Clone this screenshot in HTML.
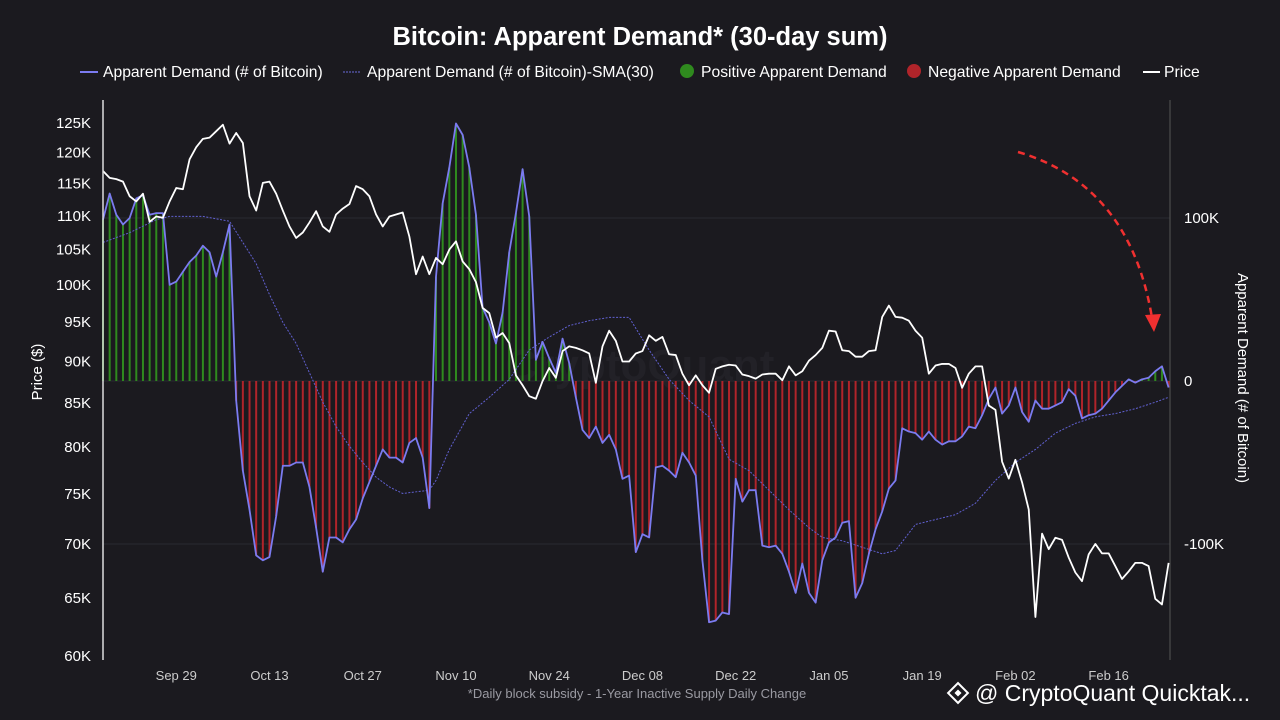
<!DOCTYPE html>
<html><head><meta charset="utf-8"><style>
html,body{margin:0;padding:0;background:#1b1a1f;}
body{width:1280px;height:720px;overflow:hidden;font-family:"Liberation Sans",sans-serif;}
</style></head><body>
<svg id="chart" width="1280" height="720" xmlns="http://www.w3.org/2000/svg" style="display:block">
<rect width="1280" height="720" fill="#1b1a1f"/>
<text x="640" y="45" fill="#fff" font-size="25.5" font-weight="bold" text-anchor="middle">Bitcoin: Apparent Demand* (30-day sum)</text>
<g font-size="15.7" fill="#fff">
 <g><line x1="80" y1="72" x2="98" y2="72" stroke="#7b7bf0" stroke-width="2"/><text x="103" y="77">Apparent Demand (# of Bitcoin)</text></g>
 <g><line x1="343" y1="72" x2="361" y2="72" stroke="#6a6ad8" stroke-width="1" stroke-dasharray="2,1"/><text x="367" y="77">Apparent Demand (# of Bitcoin)-SMA(30)</text></g>
 <g><circle cx="687" cy="71" r="7" fill="#2f8a1e"/><text x="701" y="77">Positive Apparent Demand</text></g>
 <g><circle cx="914" cy="71" r="7" fill="#b0242a"/><text x="928" y="77">Negative Apparent Demand</text></g>
 <g><line x1="1143" y1="72" x2="1160" y2="72" stroke="#fff" stroke-width="2"/><text x="1164" y="77">Price</text></g>
</g>
<text x="640" y="380" fill="#222127" font-size="44" font-weight="bold" text-anchor="middle">CryptoQuant</text>
<g id="grid"></g>
<g id="bars"></g>
<g id="lines"></g>
<g id="axes"></g>
<text x="637" y="698" fill="#9a9aa2" font-size="13" text-anchor="middle">*Daily block subsidy - 1-Year Inactive Supply Daily Change</text>
<text x="975" y="701" fill="#fff" font-size="23">@ CryptoQuant Quicktak...</text>
<g transform="translate(958,693) rotate(45)"><rect x="-7" y="-7" width="14" height="14" fill="none" stroke="#fff" stroke-width="2"/><rect x="-2.5" y="-2.5" width="5" height="5" fill="#fff"/></g>
<g>
 <path d="M1018,152 Q1130,185 1152,318" fill="none" stroke="#f03030" stroke-width="2.5" stroke-dasharray="7,5"/>
 <path d="M1145,315 L1154,332 L1161,314 Z" fill="#f03030"/>
</g>
</svg>
<script>
const demand=[99,115,102,96,100,112,114,102,103,103,59,61,67,73,77,83,79,64,79,96,-12,-55,-79,-107,-110,-108,-83,-52,-52,-50,-50,-65,-90,-117,-96,-96,-99,-91,-85,-72,-62,-52,-42,-47,-47,-50,-38,-35,-47,-78,
64,109,131,158,151,131,102,45,36,23,42,79,103,130,101,13,24,14,5,26,11,-10,-30,-35,-28,-38,-33,-42,-60,-58,-105,-94,-96,-53,-52,-55,-59,-44,-50,-58,-110,-148,-147,-142,-143,-60,-74,-67,-67,-101,-102,-101,-106,-117,-130,
-112,-130,-136,-110,-99,-96,-87,-86,-133,-124,-106,-91,-80,-66,-61,-29,-31,-32,-36,-31,-36,-39,-37,-37,-34,-28,-29,-21,-11,-4,-20,-15,-4,-19,-25,-12,-17,-17,-15,-13,-5,-9,-23,-21,-20,-17,-12,-7,-3,1,-1,1,2,6,9,-4];
const price=[117.0,115.9,115.7,115.3,113.0,112.2,113.4,109.1,109.9,109.7,112.2,114.3,114.1,118.9,120.9,122.3,122.5,123.6,124.7,121.5,123.3,121.6,113.0,110.8,115.1,115.3,113.4,110.8,108.4,106.7,107.5,109.0,110.7,108.4,107.6,110.2,111.1,111.8,114.6,114.1,113.0,110.2,108.4,109.9,110.2,110.5,106.9,101.5,104.0,101.5,
103.8,102.9,105.0,106.2,103.3,102.2,100.4,96.9,96.2,93.0,93.6,92.3,88.3,87.1,85.8,85.5,87.6,89.2,88.0,91.3,91.9,91.7,91.4,91.0,87.4,91.9,93.9,92.6,90.0,90.0,91.0,91.3,93.3,92.6,93.1,90.9,90.8,88.5,87.1,88.3,87.1,86.2,89.1,89.4,89.6,89.5,88.4,88.2,87.9,88.4,88.5,88.5,87.7,89.4,88.3,
88.8,90.1,90.8,91.7,93.9,93.8,91.4,91.3,90.6,90.6,91.3,91.4,95.7,97.2,95.7,95.6,95.2,93.9,93.0,88.5,89.5,89.7,89.7,89.2,86.8,88.5,89.4,89.4,84.7,84.2,78.4,76.6,78.6,76.2,73.4,63.3,71.0,69.5,70.6,70.4,68.7,67.3,66.5,69.0,70.0,69.1,69.1,67.9,66.7,67.4,68.2,68.2,67.9,64.9,64.4,68.2];
const smaDays=[0,4,8,10,15,19,23,25,27,29,31,33,35,37,39,41,43,45,49,50,52,55,58,61,64,67,70,73,76,79,82,85,88,91,94,97,100,103,106,108,111,114,117,119,122,125,128,131,134,137,140,143,146,149,152,155,158,160];
const smaValues=[85,91,99,101,101,98,72,53,36,23,5,-13,-28,-40,-50,-59,-65,-69,-67,-61,-42,-20,-10,1,19,27,34,37,39,39,19,1,-12,-22,-48,-55,-67,-79,-90,-96,-98,-102,-106,-104,-88,-85,-82,-75,-61,-50,-42,-32,-26,-22,-20,-17,-13,-10];
const priceTicks=[60,65,70,75,80,85,90,95,100,105,110,115,120,125];
const demandTicks=[100,0,-100];
const demandTickLabels=["100K","0","-100K"];
const xTickDays=[11,25,39,53,67,81,95,109,123,137,151];
const xTickLabels=["Sep 29","Oct 13","Oct 27","Nov 10","Nov 24","Dec 08","Dec 22","Jan 05","Jan 19","Feb 02","Feb 16"];

const NS="http://www.w3.org/2000/svg";
const X0=103,X1=1170,DX=6.66;
const xs=i=>X0+i*DX;
const yR=v=>381-v*1.63;
const yL=p=>123+726*Math.log(125/p);
function mk(tag,attrs,parent){const e=document.createElementNS(NS,tag);for(const k in attrs)e.setAttribute(k,attrs[k]);parent.appendChild(e);return e;}
const grid=document.getElementById('grid'),bars=document.getElementById('bars'),lines=document.getElementById('lines'),axes=document.getElementById('axes');
demandTicks.forEach((v,k)=>{
 const g=mk('line',{x1:X0,x2:X1,y1:yR(v),y2:yR(v),stroke:'#2a2a30','stroke-width':1},grid);
 
 
 const t=mk('text',{x:1184,y:yR(v)+5,fill:'#fff','font-size':15},axes);
 
 
 t.textContent=demandTickLabels[k];
});
demand.forEach((v,i)=>{
 const b=mk('line',{x1:xs(i),x2:xs(i),y1:yR(0),y2:yR(v),stroke:v>=0?'#2f8a1e':'#b0242a','stroke-width':2},bars);
 
 
});
const sma=mk('polyline',{points:smaDays.map((d,k)=>xs(d)+','+yR(smaValues[k])).join(' '),fill:'none',stroke:'#6060d0','stroke-width':1,'stroke-dasharray':'2,1.5'},lines);


const dl=mk('polyline',{points:demand.map((v,i)=>xs(i)+','+yR(v)).join(' '),fill:'none',stroke:'#7b7bf0','stroke-width':1.8,'stroke-linejoin':'round'},lines);


const pl=mk('polyline',{points:price.map((p,i)=>xs(i)+','+yL(p)).join(' '),fill:'none',stroke:'#fff','stroke-width':1.8,'stroke-linejoin':'round'},lines);


const la=mk('line',{x1:X0,x2:X0,y1:100,y2:660,stroke:'#ddd','stroke-width':1.5},axes);


const ra=mk('line',{x1:X1,x2:X1,y1:100,y2:660,stroke:'#555','stroke-width':1},axes);


priceTicks.forEach(p=>{
 const t=mk('text',{x:91,y:yL(p)+5,fill:'#fff','font-size':15,'text-anchor':'end'},axes);
 
 
 t.textContent=p+'K';
});
xTickDays.forEach((d,k)=>{
 const t=mk('text',{x:xs(d),y:680,fill:'#ccc','font-size':13,'text-anchor':'middle'},axes);
 
 
 t.textContent=xTickLabels[k];
});
const lt=mk('text',{transform:'translate(42,372) rotate(-90)',fill:'#fff','font-size':15,'text-anchor':'middle'},axes);


lt.textContent='Price ($)';
const rt=mk('text',{transform:'translate(1238,378) rotate(90)',fill:'#fff','font-size':15,'text-anchor':'middle'},axes);


rt.textContent='Apparent Demand (# of Bitcoin)';
</script>
</body></html>
